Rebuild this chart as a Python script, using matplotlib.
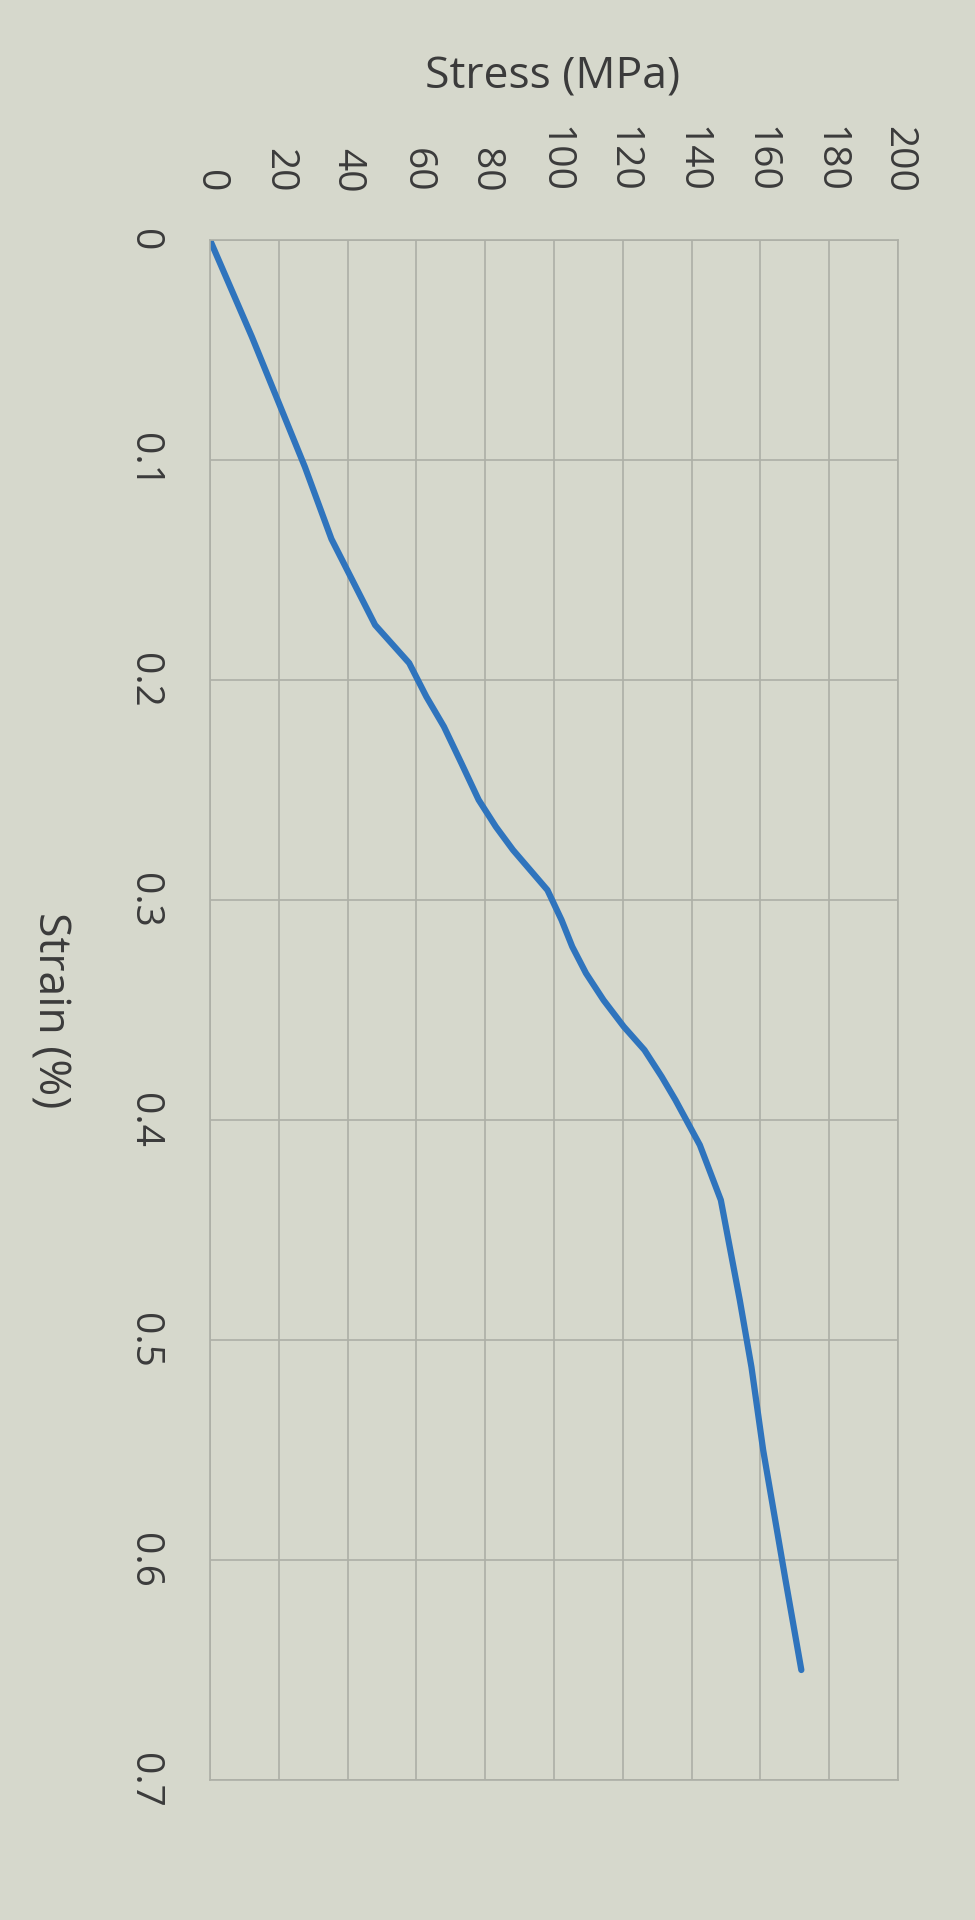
import matplotlib
matplotlib.use("Agg")
import matplotlib.pyplot as plt

# values (strain in %, stress in MPa)
strain = [0.0, 0.0441, 0.1032, 0.1359, 0.1750, 0.1923, 0.2076, 0.2212, 0.2379, 0.2545,
          0.2667, 0.2773, 0.2864, 0.2955, 0.3091, 0.3212, 0.3333, 0.3455, 0.3576, 0.3682,
          0.3803, 0.3909, 0.4114, 0.4364, 0.4818, 0.5123, 0.5500, 0.6091, 0.6500]
stress = [0.0, 12.2, 27.6, 35.3, 48.0, 57.9, 62.9, 68.0, 73.1, 78.1,
          83.1, 88.1, 93.1, 98.1, 102.2, 105.3, 109.3, 114.4, 120.3, 126.3,
          131.3, 135.3, 142.4, 148.5, 154.0, 157.4, 160.8, 167.3, 171.9]

stress_ticks = list(range(0, 201, 20))
strain_ticks = [0, 0.1, 0.2, 0.3, 0.4, 0.5, 0.6, 0.7]
strain_labels = ["0", "0.1", "0.2", "0.3", "0.4", "0.5", "0.6", "0.7"]

plt.rcParams['font.family'] = ['Open Sans', 'DejaVu Sans']
bg = '#d6d8cc'
txt = '#3b3b3b'
grid = '#adafa6'

fig = plt.figure(figsize=(9.75, 19.2), dpi=100, facecolor=bg)
# the photo shows the Excel chart turned 90 degrees clockwise
ax = fig.add_axes([210 / 975, 1 - 1780 / 1920, 688 / 975, (1780 - 240) / 1920])
ax.set_facecolor(bg)

ax.plot(stress, strain, color='#2f74bd', lw=4.5, solid_joinstyle='round', solid_capstyle='round')

ax.set_xlim(0, 200)
ax.set_ylim(0.7, 0)
ax.xaxis.tick_top()
ax.set_xticks(stress_ticks)
ax.set_xticklabels([str(v) for v in stress_ticks], rotation=-90, fontsize=28, color=txt)
ax.set_yticks(strain_ticks)
ax.set_yticklabels(strain_labels, rotation=-90, va='center', fontsize=28, color=txt)
ax.tick_params(axis='x', length=0, pad=34)
ax.tick_params(axis='y', length=0, pad=34)
ax.grid(True, color=grid, lw=1.2)
for s in ax.spines.values():
    s.set_color(grid)
    s.set_linewidth(1.2)

fig.text(553 / 975, 1 - 77 / 1920, "Stress (MPa)", ha='center', va='center', fontsize=32, color=txt)
fig.text(50 / 975, 1 - 1010 / 1920, "Strain (%)", ha='center', va='center', rotation=-90, fontsize=32, color=txt)

fig.savefig("out.png", dpi=100, facecolor=bg)
